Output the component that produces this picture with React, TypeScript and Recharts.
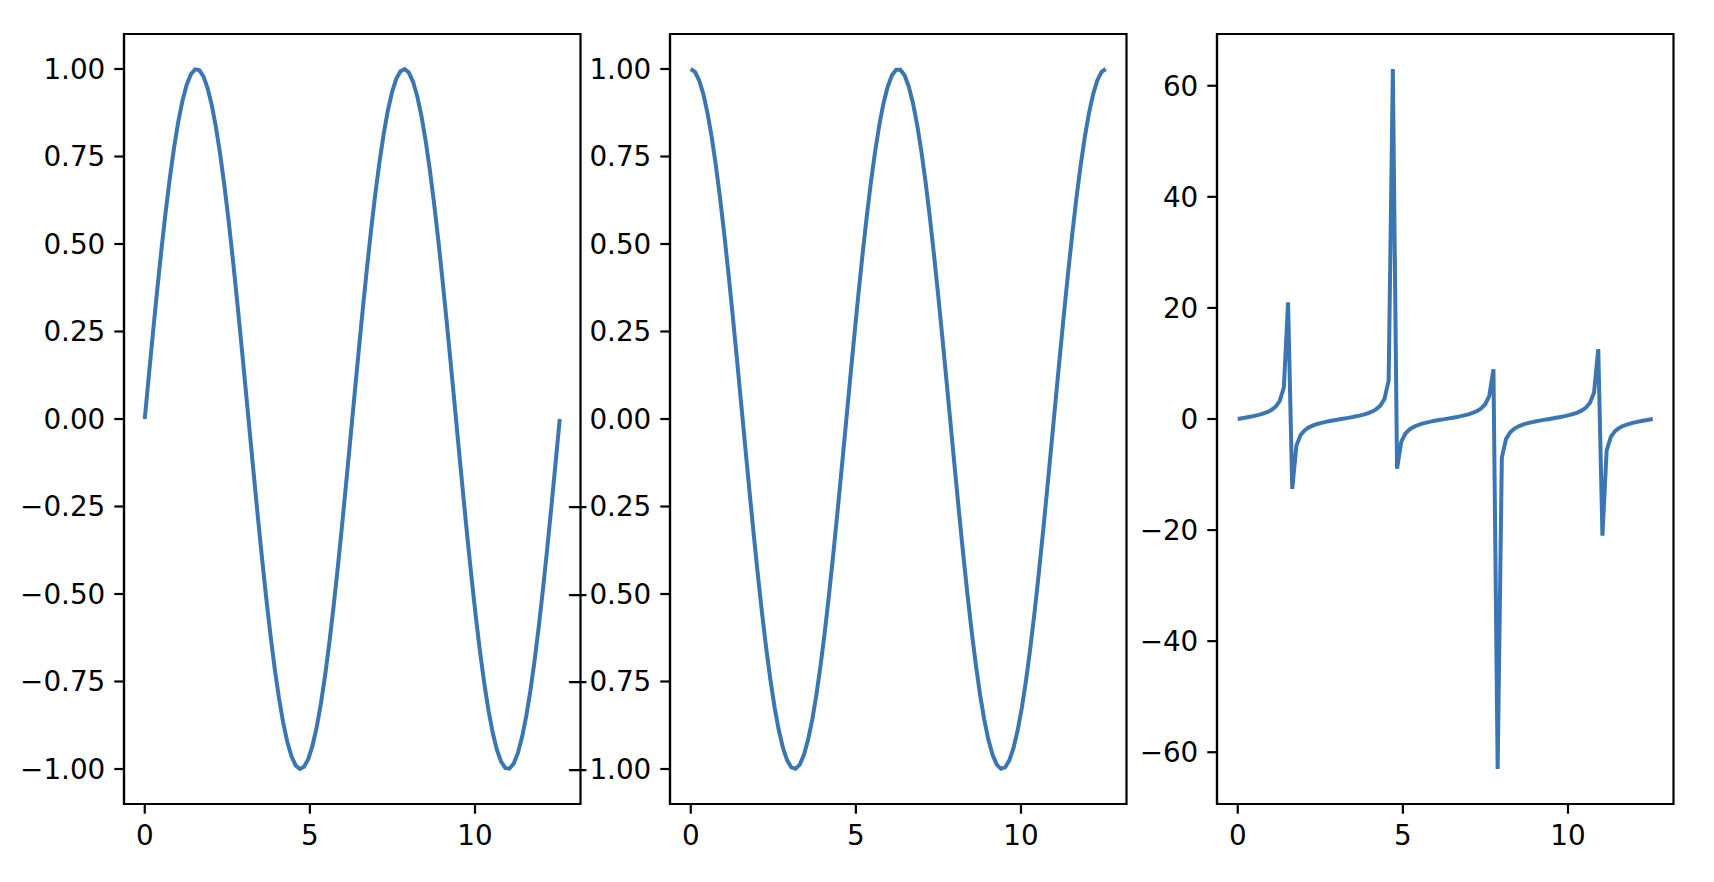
import React from 'react';
import { LineChart, Line, XAxis, YAxis, ReferenceArea } from 'recharts';

// x values (0 .. 4π, 100 samples)
const xValues: number[] = [
  0, 0.1269, 0.2539, 0.3808, 0.5077, 0.6347, 0.7616, 0.8885, 1.0155, 1.1424,
  1.2693, 1.3963, 1.5232, 1.6501, 1.7771, 1.904, 2.0309, 2.1579, 2.2848, 2.4117,
  2.5387, 2.6656, 2.7925, 2.9195, 3.0464, 3.1733, 3.3003, 3.4272, 3.5541, 3.6811,
  3.808, 3.9349, 4.0619, 4.1888, 4.3157, 4.4427, 4.5696, 4.6965, 4.8235, 4.9504,
  5.0773, 5.2043, 5.3312, 5.4581, 5.5851, 5.712, 5.8389, 5.9659, 6.0928, 6.2197,
  6.3467, 6.4736, 6.6005, 6.7275, 6.8544, 6.9813, 7.1083, 7.2352, 7.3621, 7.4891,
  7.616, 7.7429, 7.8698, 7.9968, 8.1237, 8.2506, 8.3776, 8.5045, 8.6314, 8.7584,
  8.8853, 9.0122, 9.1392, 9.2661, 9.393, 9.52, 9.6469, 9.7738, 9.9008, 10.0277,
  10.1546, 10.2816, 10.4085, 10.5354, 10.6624, 10.7893, 10.9162, 11.0432, 11.1701, 11.297,
  11.424, 11.5509, 11.6778, 11.8048, 11.9317, 12.0586, 12.1856, 12.3125, 12.4394, 12.5664,
];

const sinValues: number[] = [
  0, 0.1266, 0.2511, 0.3717, 0.4862, 0.5929, 0.6901, 0.7761, 0.8497, 0.9096,
  0.9549, 0.9848, 0.9989, 0.9969, 0.9788, 0.945, 0.896, 0.8326, 0.7558, 0.6668,
  0.5671, 0.4582, 0.342, 0.2203, 0.0951, -0.0317, -0.158, -0.2817, -0.4009, -0.5137,
  -0.6182, -0.7127, -0.7958, -0.866, -0.9224, -0.9638, -0.9898, -0.9999, -0.9938, -0.9718,
  -0.9341, -0.8815, -0.8146, -0.7346, -0.6428, -0.5406, -0.4298, -0.312, -0.1893, -0.0634,
  0.0634, 0.1893, 0.312, 0.4298, 0.5406, 0.6428, 0.7346, 0.8146, 0.8815, 0.9341,
  0.9718, 0.9938, 0.9999, 0.9898, 0.9638, 0.9224, 0.866, 0.7958, 0.7127, 0.6182,
  0.5137, 0.4009, 0.2817, 0.158, 0.0317, -0.0951, -0.2203, -0.342, -0.4582, -0.5671,
  -0.6668, -0.7558, -0.8326, -0.896, -0.945, -0.9788, -0.9969, -0.9989, -0.9848, -0.9549,
  -0.9096, -0.8497, -0.7761, -0.6901, -0.5929, -0.4862, -0.3717, -0.2511, -0.1266, 0,
];

const cosValues: number[] = [
  1, 0.992, 0.9679, 0.9284, 0.8738, 0.8053, 0.7237, 0.6306, 0.5272, 0.4154,
  0.2969, 0.1736, 0.0476, -0.0793, -0.2048, -0.3271, -0.4441, -0.5539, -0.6549, -0.7453,
  -0.8237, -0.8888, -0.9397, -0.9754, -0.9955, -0.9995, -0.9874, -0.9595, -0.9161, -0.858,
  -0.7861, -0.7015, -0.6056, -0.5, -0.3863, -0.2665, -0.1423, -0.0159, 0.1108, 0.2358,
  0.3569, 0.4723, 0.5801, 0.6785, 0.766, 0.8413, 0.9029, 0.9501, 0.9819, 0.998,
  0.998, 0.9819, 0.9501, 0.9029, 0.8413, 0.766, 0.6785, 0.5801, 0.4723, 0.3569,
  0.2358, 0.1108, -0.0159, -0.1423, -0.2665, -0.3863, -0.5, -0.6056, -0.7015, -0.7861,
  -0.858, -0.9161, -0.9595, -0.9874, -0.9995, -0.9955, -0.9754, -0.9397, -0.8888, -0.8237,
  -0.7453, -0.6549, -0.5539, -0.4441, -0.3271, -0.2048, -0.0793, 0.0476, 0.1736, 0.2969,
  0.4154, 0.5272, 0.6306, 0.7237, 0.8053, 0.8738, 0.9284, 0.9679, 0.992, 1,
];

const tanValues: number[] = [
  0, 0.1276, 0.2595, 0.4004, 0.5564, 0.7363, 0.9535, 1.2308, 1.6117, 2.1897,
  3.2162, 5.6713, 20.993, -12.579, -4.779, -2.889, -2.018, -1.503, -1.154, -0.8947,
  -0.6884, -0.5155, -0.364, -0.2259, -0.0955, 0.0317, 0.16, 0.2936, 0.4376, 0.5987,
  0.7864, 1.016, 1.314, 1.7321, 2.3874, 3.617, 6.9551, 63.02, -8.967, -4.122,
  -2.6175, -1.8664, -1.4043, -1.0827, -0.8391, -0.6427, -0.476, -0.3284, -0.1927, -0.0636,
  0.0636, 0.1927, 0.3284, 0.476, 0.6427, 0.8391, 1.0827, 1.4043, 1.8664, 2.6175,
  4.122, 8.967, -63.02, -6.9551, -3.617, -2.3874, -1.7321, -1.314, -1.016, -0.7864,
  -0.5987, -0.4376, -0.2936, -0.16, -0.0317, 0.0955, 0.2259, 0.364, 0.5155, 0.6884,
  0.8947, 1.154, 1.503, 2.018, 2.889, 4.779, 12.579, -20.993, -5.6713, -3.2162,
  -2.1897, -1.6117, -1.2308, -0.9535, -0.7363, -0.5564, -0.4004, -0.2595, -0.1276, 0,
];

const xTicks: number[] = [0, 5, 10];
const trigTicks: number[] = [-1, -0.75, -0.5, -0.25, 0, 0.25, 0.5, 0.75, 1];
const tanTicks: number[] = [-60, -40, -20, 0, 20, 40, 60];

const LINE_COLOR = '#3b76b3';
const FONT = '"DejaVu Sans", sans-serif';
const FONT_SIZE = 27.8;
const TICK = 9.7;
const SPINE = 2.2;

const AXES_LEFTS = [123.5, 670, 1216.6];
const AXES_WIDTH = 456.5;
const AXES_TOP = 34;
const AXES_HEIGHT = 770;
const Y_AXIS_W = 120;
const RIGHT_PAD = 12;
const X_AXIS_H = 882 - AXES_TOP - AXES_HEIGHT;

const minus = (s: string) => s.replace('-', '\u2212');
const fmt2 = (v: number) => minus(v.toFixed(2));
const fmt0 = (v: number) => minus(String(Math.round(v)));

type PanelProps = {
  ys: number[];
  yDomain: [number, number];
  yTicks: number[];
  yFmt: (v: number) => string;
  left: number;
};

const Panel = ({ ys, yDomain, yTicks, yFmt, left }: PanelProps) => {
  const data = xValues.map((x, i) => ({ x, y: ys[i] }));
  const tickStyle = { fill: '#000', fontFamily: FONT, fontSize: FONT_SIZE };
  const axisLine = { stroke: '#000', strokeWidth: SPINE };
  const tickLine = { stroke: '#000', strokeWidth: SPINE };
  const xDomain: [number, number] = [-0.6283, 13.1947];
  return (
    <div style={{ position: 'absolute', left: left - Y_AXIS_W, top: 0 }}>
      <LineChart
        width={Y_AXIS_W + AXES_WIDTH + RIGHT_PAD}
        height={882}
        data={data}
        margin={{ top: AXES_TOP, right: RIGHT_PAD, bottom: 0, left: 0 }}
      >
        <XAxis
          dataKey="x"
          type="number"
          domain={xDomain}
          allowDataOverflow
          ticks={xTicks}
          tickFormatter={fmt0}
          tick={tickStyle}
          tickSize={TICK}
          tickMargin={12}
          axisLine={axisLine}
          tickLine={tickLine}
          height={X_AXIS_H}
          interval={0}
        />
        <YAxis
          type="number"
          domain={yDomain}
          allowDataOverflow
          ticks={yTicks}
          tickFormatter={yFmt}
          tick={tickStyle}
          tickSize={TICK}
          tickMargin={9}
          axisLine={axisLine}
          tickLine={tickLine}
          width={Y_AXIS_W}
          interval={0}
        />
        <ReferenceArea
          x1={xDomain[0]}
          x2={xDomain[1]}
          y1={yDomain[0]}
          y2={yDomain[1]}
          fill="none"
          fillOpacity={0}
          stroke="#000"
          strokeWidth={SPINE}
          ifOverflow="visible"
        />
        <Line
          type="linear"
          dataKey="y"
          stroke={LINE_COLOR}
          strokeWidth={4}
          dot={false}
          activeDot={false}
          isAnimationActive={false}
        />
      </LineChart>
    </div>
  );
};

export default function App() {
  return (
    <div
      style={{
        position: 'absolute',
        left: 0,
        top: 0,
        width: 1714,
        height: 882,
        background: '#fff',
        overflow: 'hidden',
      }}
    >
      <Panel ys={sinValues} yDomain={[-1.1, 1.1]} yTicks={trigTicks} yFmt={fmt2} left={AXES_LEFTS[0]} />
      <Panel ys={cosValues} yDomain={[-1.1, 1.1]} yTicks={trigTicks} yFmt={fmt2} left={AXES_LEFTS[1]} />
      <Panel ys={tanValues} yDomain={[-69.32, 69.32]} yTicks={tanTicks} yFmt={fmt0} left={AXES_LEFTS[2]} />
    </div>
  );
}
